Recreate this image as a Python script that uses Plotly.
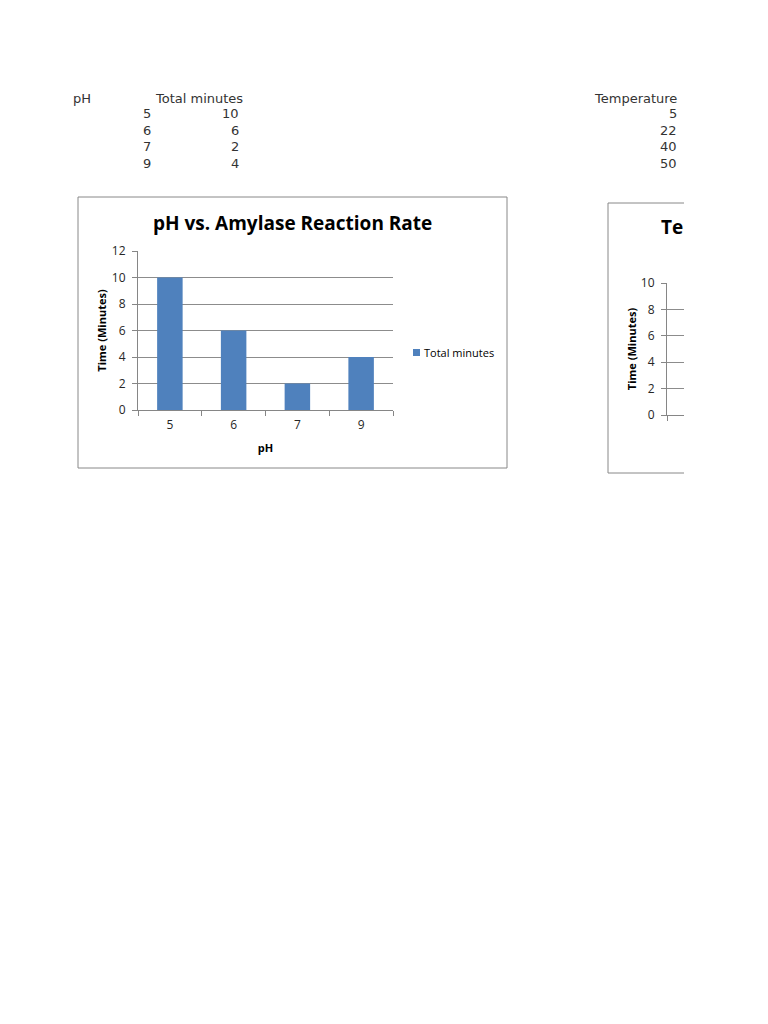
import plotly.graph_objects as go

# table / chart data
ph = ['5', '6', '7', '9']
total_minutes = [10, 6, 2, 4]
temperature = ['5', '22', '40', '50']
bar_color = '#4F81BD'

W, H = 676, 1000  # body has an 8px margin, page is cut off at x=684


def px(x):
    return x / W


def py(y):
    return 1 - y / H


font_cell = dict(family='DejaVu Sans', size=13, color='#333333')
font_chart = 'Open Sans'
title_font = dict(family=font_chart, size=11, color='#000000')

fig = go.Figure()

fig.add_trace(go.Bar(
    x=ph, y=total_minutes, name='Total minutes', showlegend=False,
    marker=dict(color=bar_color, line=dict(width=0)),
    xaxis='x', yaxis='y'
))

# second chart (temperature) - its bars are outside the visible page
fig.add_trace(go.Bar(
    x=temperature, y=[None] * len(temperature), showlegend=False,
    marker=dict(color=bar_color), xaxis='x2', yaxis='y2'
))

axis_common = dict(
    showline=True, linecolor='#868686', linewidth=1,
    ticks='outside', ticklen=5, tickcolor='#868686',
    tickfont=dict(family=font_chart, size=12, color='#262626'),
)

fig.update_layout(
    width=W, height=H,
    margin=dict(l=0, r=0, t=0, b=0, autoexpand=False),
    paper_bgcolor='white', plot_bgcolor='white',
    bargap=0.6,
    showlegend=False,
    xaxis=dict(domain=[px(130), px(385)], anchor='y', tickson='boundaries',
               ticklabelstandoff=4,
               title=dict(text='<b>pH</b>', font=title_font, standoff=11),
               **axis_common),
    yaxis=dict(domain=[py(402), py(243)], anchor='x', range=[0, 12], dtick=2,
               showgrid=True, gridcolor='#8c8c8c', gridwidth=1, zeroline=False,
               ticklabelstandoff=4,
               title=dict(text='<b>Time (Minutes)</b>', font=title_font, standoff=3),
               **axis_common),
    xaxis2=dict(domain=[px(659), 1.0], anchor='y2', tickson='boundaries',
                showticklabels=False, **axis_common),
    yaxis2=dict(domain=[py(407), py(275)], anchor='x2', range=[0, 10], dtick=2,
                showgrid=True, gridcolor='#8c8c8c', gridwidth=1, zeroline=False,
                ticklabelstandoff=4,
                title=dict(text='<b>Time (Minutes)</b>', font=title_font, standoff=2),
                **axis_common),
)

# chart frames
fig.add_shape(type='rect', xref='paper', yref='paper',
              x0=px(70), x1=px(499), y0=py(460), y1=py(189),
              line=dict(color='#888888', width=1), layer='below')
fig.add_shape(type='rect', xref='paper', yref='paper',
              x0=px(600), x1=px(760), y0=py(465), y1=py(195),
              line=dict(color='#888888', width=1), layer='below')

# legend of the pH chart
fig.add_shape(type='rect', xref='paper', yref='paper',
              x0=px(405), x1=px(412), y0=py(348), y1=py(341),
              fillcolor=bar_color, line=dict(width=0))
fig.add_annotation(text='Total minutes', xref='paper', yref='paper',
                   x=px(414), y=py(344), xanchor='left', yanchor='middle', showarrow=False,
                   font=dict(family=font_chart, size=11, color='#000000'))

# chart titles
fig.add_annotation(text='<b>pH vs. Amylase Reaction Rate</b>', xref='paper', yref='paper',
                   x=px(284), y=py(215), xanchor='center', yanchor='middle', showarrow=False,
                   font=dict(family=font_chart, size=19, color='#000000'))
fig.add_annotation(text='<b>Te</b>', xref='paper', yref='paper',
                   x=px(651), y=py(219), xanchor='left', yanchor='middle', showarrow=False,
                   font=dict(family=font_chart, size=19, color='#000000'))

# spreadsheet cells
cells = [('pH', 63, 91, 'left'), ('Total minutes', 237, 91, 'right'),
         ('Temperature', 671, 91, 'right')]
row_y = [106, 122, 138, 155]
for i in range(len(ph)):
    cells.append((ph[i], 145, row_y[i], 'right'))
    cells.append((str(total_minutes[i]), 233, row_y[i], 'right'))
    cells.append((temperature[i], 671, row_y[i], 'right'))
for text, x, y, anchor in cells:
    fig.add_annotation(text=text, xref='paper', yref='paper', x=px(x), y=py(y),
                       xanchor=anchor, yanchor='middle', showarrow=False, font=font_cell)

fig.write_html('out.html')
